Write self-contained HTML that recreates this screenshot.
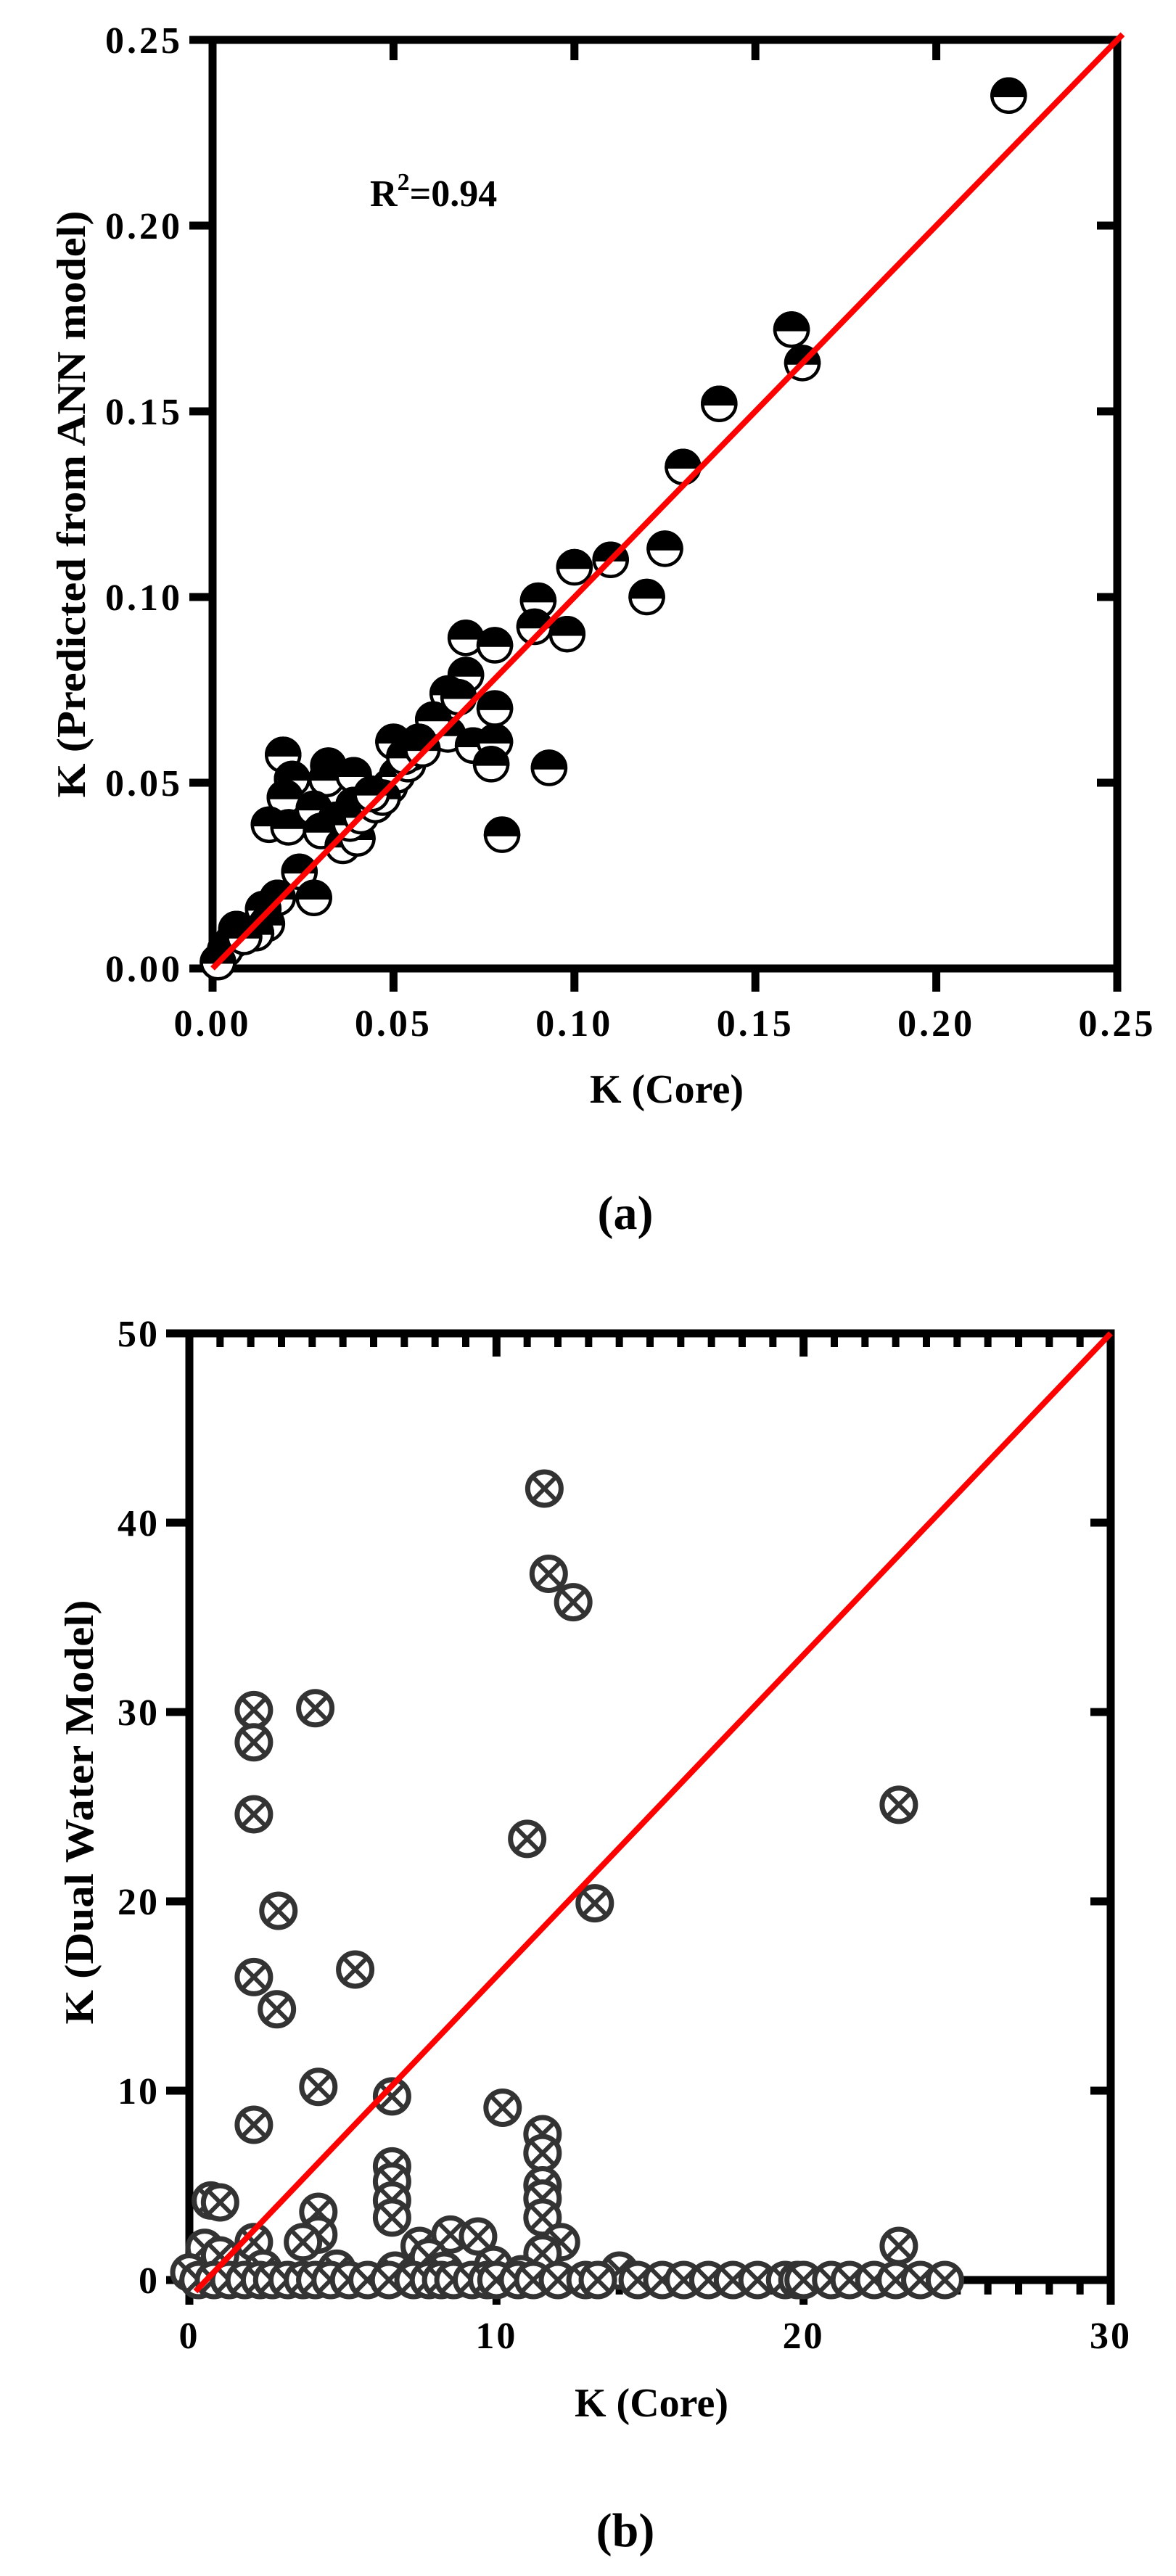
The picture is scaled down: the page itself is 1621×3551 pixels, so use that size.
<!DOCTYPE html>
<html><head><meta charset="utf-8"><style>html,body{margin:0;padding:0;background:#fff}svg{display:block}text{font-family:"Liberation Serif",serif;font-weight:bold;fill:#000}</style></head>
<body>
<svg id="fig" width="1621" height="3551" viewBox="0 0 1621 3551" xmlns="http://www.w3.org/2000/svg">
<g id="chartA"></g>
<g id="chartB"></g>
</svg>
<script>
const aX = [0.220,0.160,0.163,0.140,0.130,0.125,0.110,0.100,0.120,0.090,0.089,0.098,0.070,0.078,0.070,0.065,0.068,0.078,0.065,0.072,0.078,0.077,0.093,0.080,0.061,0.0195,0.022,0.020,0.0156,0.021,0.032,0.0315,0.039,0.028,0.039,0.034,0.030,0.036,0.040,0.038,0.041,0.045,0.049,0.051,0.054,0.055,0.050,0.057,0.047,0.024,0.028,0.018,0.014,0.015,0.012,0.0066,0.0056,0.0035,0.0015,0.0087,0.044,0.053,0.058];
const aY = [0.235,0.172,0.163,0.152,0.135,0.113,0.110,0.108,0.100,0.099,0.092,0.090,0.089,0.087,0.079,0.074,0.073,0.070,0.063,0.060,0.061,0.055,0.054,0.036,0.067,0.0575,0.051,0.046,0.0387,0.038,0.0546,0.051,0.052,0.043,0.044,0.040,0.037,0.033,0.035,0.039,0.041,0.044,0.049,0.052,0.055,0.058,0.061,0.061,0.046,0.026,0.019,0.019,0.016,0.012,0.0095,0.0106,0.0074,0.005,0.0017,0.0085,0.047,0.057,0.059];
const aTicks = [0,0.05,0.10,0.15,0.20,0.25];
const aTickLabels = ["0.00","0.05","0.10","0.15","0.20","0.25"];

const bX = [11.56,11.7,12.5,2.1,4.1,2.1,2.1,2.9,11.0,13.2,23.1,2.1,5.4,2.85,4.2,6.6,10.2,2.1,11.5,11.5,6.6,6.6,11.5,11.5,6.6,6.6,11.5,0.7,1.0,4.2,4.2,3.7,2.1,0.5,1.0,7.5,8.5,9.4,12.1,23.1,11.5,14.0,7.8,9.9,0,4.8,10.8,2.4,8.3,6.7,
0.3,0.8,1.3,1.8,2.3,2.7,3.2,3.7,4.1,4.6,5.2,5.8,6.5,7.3,7.8,8.2,8.6,9.2,9.7,10.0,10.7,11.2,12.0,12.9,13.3,14.6,15.4,16.1,16.9,17.7,18.5,19.4,19.8,20.0,20.9,21.5,22.3,23.0,23.8,24.6];
const bY = [41.8,37.3,35.8,30.1,30.2,28.4,24.6,19.5,23.3,19.9,25.1,16.0,16.4,14.3,10.2,9.7,9.1,8.2,7.7,6.7,6.0,5.2,5.0,4.3,4.2,3.3,3.3,4.2,4.1,3.6,2.4,2.0,2.0,1.7,1.3,1.8,2.4,2.3,2.0,1.8,1.4,0.5,1.2,0.8,0.4,0.6,0.3,0.6,0.5,0.5,
0,0,0,0,0,0,0,0,0,0,0,0,0,0,0,0,0,0,0,0,0,0,0,0,0,0,0,0,0,0,0,0,0,0,0,0,0,0,0,0];
const bXTicks = [0,10,20,30];
const bYTicks = [0,10,20,30,40,50];

const NS = "http://www.w3.org/2000/svg";
function mk(parent, tag, attrs, txt){const e=document.createElementNS(NS,tag);for(const k in attrs)e.setAttribute(k,attrs[k]);if(txt!==undefined)e.textContent=txt;parent.appendChild(e);return e;}

// ---------- Chart A ----------
const gA = document.getElementById('chartA');
const ax = v => 293 + v/0.25*(1540-293);
const ay = v => 1335 - v/0.25*(1335-55);
aTicks.forEach((t,i)=>{
  let e=mk(gA,'line',{x1:ax(t),x2:ax(t),y1:1335,y2:1367,stroke:'#000','stroke-width':11});
  
  
  e=mk(gA,'line',{x1:ax(t),x2:ax(t),y1:55,y2:83,stroke:'#000','stroke-width':11});
  
  
  e=mk(gA,'line',{x1:261,x2:293,y1:ay(t),y2:ay(t),stroke:'#000','stroke-width':11});
  
  
  e=mk(gA,'line',{x1:1512,x2:1540,y1:ay(t),y2:ay(t),stroke:'#000','stroke-width':11});
  
  
  e=mk(gA,'text',{x:ax(t),y:1428,'text-anchor':'middle','font-size':52,'letter-spacing':4},aTickLabels[i]);
  
  
  e=mk(gA,'text',{x:252,y:ay(t)+18,'text-anchor':'end','font-size':52,'letter-spacing':4},aTickLabels[i]);
  
  
});
let fa=mk(gA,'rect',{x:293,y:55,width:1540-293,height:1335-55,fill:'none',stroke:'#000','stroke-width':11});


aX.forEach((v,i)=>{
  const cx=ax(v), cy=ay(aY[i]), r=23;
  const g=mk(gA,'g',{});
  
  
  mk(g,'circle',{cx:cx,cy:cy,r:r,fill:'#fff',stroke:'#000','stroke-width':4.5});
  mk(g,'path',{d:`M${cx-r} ${cy} A${r} ${r} 0 0 1 ${cx+r} ${cy} Z`,fill:'#000',stroke:'#000','stroke-width':4.5});
});
let la=mk(gA,'line',{x1:ax(0),y1:ay(0),x2:ax(0.2515),y2:ay(0.2515),stroke:'#f00','stroke-width':8});


let r2=mk(gA,'text',{x:510,y:284,'font-size':52});


mk(r2,'tspan',{},'R');mk(r2,'tspan',{dy:-22,'font-size':34},'2');mk(r2,'tspan',{dy:22},'=0.94');
let xta=mk(gA,'text',{x:919,y:1520,'text-anchor':'middle','font-size':56},'K (Core)');


let yta=mk(gA,'text',{x:0,y:0,'text-anchor':'middle','font-size':56,transform:'translate(117,695) rotate(-90)',textLength:809,lengthAdjust:'spacingAndGlyphs'},'K (Predicted from ANN model)');


let pa=mk(gA,'text',{x:862,y:1694,'text-anchor':'middle','font-size':66},'(a)');



// ---------- Chart B ----------
const gB = document.getElementById('chartB');
const bx = v => 261 + v/30*(1531-261);
const by = v => 3143 - v/50*(3143-1838);
for(let m=1;m<30;m++){
  if(m%10===0) continue;
  let e=mk(gB,'line',{x1:bx(m),x2:bx(m),y1:1838,y2:1857,stroke:'#000','stroke-width':10});
  
  
  e=mk(gB,'line',{x1:bx(m),x2:bx(m),y1:3143,y2:3163,stroke:'#000','stroke-width':10});
  
  
}
bXTicks.forEach(t=>{
  let e=mk(gB,'line',{x1:bx(t),x2:bx(t),y1:3143,y2:3177,stroke:'#000','stroke-width':11});
  
  
  e=mk(gB,'line',{x1:bx(t),x2:bx(t),y1:1838,y2:1870,stroke:'#000','stroke-width':11});
  
  
  e=mk(gB,'text',{x:bx(t),y:3237,'text-anchor':'middle','font-size':52,'letter-spacing':3},String(t));
  
  
});
bYTicks.forEach(t=>{
  let e=mk(gB,'line',{x1:229,x2:261,y1:by(t),y2:by(t),stroke:'#000','stroke-width':11});
  
  
  e=mk(gB,'line',{x1:1503,x2:1531,y1:by(t),y2:by(t),stroke:'#000','stroke-width':11});
  
  
  e=mk(gB,'text',{x:220,y:by(t)+18,'text-anchor':'end','font-size':52,'letter-spacing':3},String(t));
  
  
});
let fb=mk(gB,'rect',{x:261,y:1838,width:1531-261,height:3143-1838,fill:'none',stroke:'#000','stroke-width':11});


bX.forEach((v,i)=>{
  const cx=bx(v), cy=by(bY[i]), r=23, d=14;
  const g=mk(gB,'g',{});
  
  
  mk(g,'circle',{cx:cx,cy:cy,r:r,fill:'#fff',stroke:'#333','stroke-width':7});
  mk(g,'path',{d:`M${cx-d} ${cy-d}L${cx+d} ${cy+d}M${cx+d} ${cy-d}L${cx-d} ${cy+d}`,stroke:'#333','stroke-width':6});
});
let lb=mk(gB,'line',{x1:bx(0.2),y1:by(-0.6),x2:bx(30),y2:by(50),stroke:'#f00','stroke-width':8});


let xtb=mk(gB,'text',{x:898,y:3331,'text-anchor':'middle','font-size':56},'K (Core)');


let ytb=mk(gB,'text',{x:0,y:0,'text-anchor':'middle','font-size':56,transform:'translate(128,2498) rotate(-90)',textLength:585,lengthAdjust:'spacingAndGlyphs'},'K (Dual Water Model)');


let pb=mk(gB,'text',{x:862,y:3510,'text-anchor':'middle','font-size':66},'(b)');


</script>
</body></html>
